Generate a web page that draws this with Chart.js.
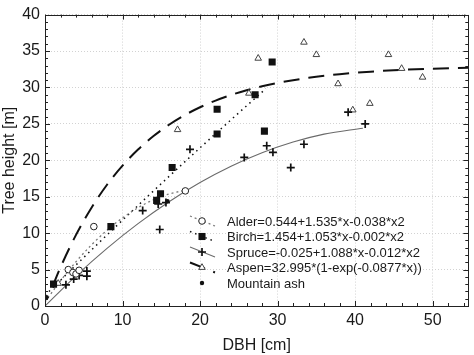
<!DOCTYPE html>
<html><head><meta charset="utf-8">
<script src="https://cdn.jsdelivr.net/npm/chart.js@4/dist/chart.umd.min.js"></script>
<style>html,body{margin:0;padding:0;background:#fff}#wrap{width:474px;height:355px}</style>
</head><body><div id="wrap"><canvas id="c" width="474" height="355"></canvas></div>
<script>
// ---- data ----
const xTicks = [0, 10, 20, 30, 40, 50];
const yTicks = [0, 5, 10, 15, 20, 25, 30, 35, 40];

const alderDBH = [3.0, 3.6, 4.0, 4.4, 6.3, 18.1];
const alderH   = [5.0, 4.6, 4.4, 4.9, 10.9, 15.8];
const birchDBH = [1.1, 8.5, 14.4, 14.9, 16.4, 22.2, 22.2, 27.1, 28.3, 29.3];
const birchH   = [3.0, 10.9, 14.5, 15.4, 19.0, 27.0, 23.6, 29.0, 24.0, 33.5];
const spruceDBH = [2.7, 3.7, 4.4, 5.4, 5.4, 12.6, 14.6, 14.8, 15.6, 18.7, 25.7, 28.6, 29.4, 31.7, 33.4, 39.1, 41.3];
const spruceH   = [2.9, 3.7, 4.2, 4.1, 4.8, 13.1, 14.0, 10.5, 14.2, 21.5, 20.4, 22.0, 21.1, 19.0, 22.2, 26.6, 25.0];
const aspenDBH = [1.7, 17.1, 26.3, 27.5, 33.4, 35.0, 37.8, 39.7, 41.9, 44.3, 46.0, 48.7];
const aspenH   = [3.1, 24.2, 29.2, 34.0, 36.2, 34.5, 30.5, 26.9, 27.8, 34.5, 32.6, 31.4];
const ashDBH = [0.2, 15.8];
const ashH   = [1.2, 14.4];

// fitted curves
const alderCurveX = [0, 2, 4, 6, 8, 10, 12, 14, 16, 18];
const alderCurveY = [0.54, 3.46, 6.08, 8.39, 10.39, 12.09, 13.49, 14.59, 15.38, 15.86];
const birchCurveX = [0, 4, 8, 12, 16, 20, 24, 28.5];
const birchCurveY = [1.45, 5.63, 9.75, 13.80, 17.79, 21.71, 25.57, 29.84];
const spruceCurveX = [0, 4, 8, 12, 16, 20, 24, 28, 32, 36, 41];
const spruceCurveY = [0, 4.14, 7.91, 11.30, 14.31, 16.94, 19.18, 21.03, 22.50, 23.59, 24.41];
const aspenCurveX = [1, 2, 4, 6, 8, 10, 12, 14, 16, 18, 20, 22, 24, 26, 28, 30, 34, 38, 42, 46, 50, 54.6];
const aspenCurveY = [2.77, 5.31, 9.76, 13.50, 16.64, 19.27, 21.48, 23.33, 24.88, 26.19, 27.28, 28.20, 28.97, 29.62, 30.16, 30.62, 31.32, 31.82, 32.17, 32.41, 32.58, 32.72];

const legendLabels = [
  "Alder=0.544+1.535*x-0.038*x2",
  "Birch=1.454+1.053*x-0.002*x2",
  "Spruce=-0.025+1.088*x-0.012*x2",
  "Aspen=32.995*(1-exp(-0.0877*x))",
  "Mountain ash"
];
const xTitle = "DBH [cm]";
const yTitle = "Tree height [m]";

// ---- build ----
const zip = (xs, ys) => xs.map((x, i) => ({x: x, y: ys[i]}));
const FONT = "'Liberation Sans', Arial, Helvetica, sans-serif";

const styles = [
  {line: {color: '#7a7a7a', width: 1.3, dash: [2, 3]}, pt: {style: 'circle', r: 3.3, fill: '#fff', stroke: '#222', bw: 1}},
  {line: {color: '#111', width: 1.5, dash: [1.5, 4]}, pt: {style: 'rect', r: 5, fill: '#111', stroke: '#111', bw: 0}},
  {line: {color: '#6a6a6a', width: 1.1, dash: []}, pt: {style: 'cross', r: 4, fill: '#111', stroke: '#111', bw: 1.7}},
  {line: {color: '#111', width: 2, dash: [16, 9]}, pt: {style: 'triangle', r: 3.8, fill: '#fff', stroke: '#444', bw: 1}},
  {line: null, pt: {style: 'circle', r: 2.2, fill: '#111', stroke: '#111', bw: 0}}
];

function curveDS(xs, ys, s) {
  return {data: zip(xs, ys), showLine: true, pointRadius: 0, borderColor: s.line.color,
    borderWidth: s.line.width, borderDash: s.line.dash, tension: 0.4, cubicInterpolationMode: 'monotone', fill: false, order: 2};
}
function pointDS(xs, ys, s) {
  return {data: zip(xs, ys), showLine: false, pointStyle: s.pt.style, pointRadius: s.pt.r,
    pointBackgroundColor: s.pt.fill, pointBorderColor: s.pt.stroke, pointBorderWidth: s.pt.bw, order: 0};
}

const datasets = [
  curveDS(alderCurveX, alderCurveY, styles[0]),
  curveDS(birchCurveX, birchCurveY, styles[1]),
  curveDS(spruceCurveX, spruceCurveY, styles[2]),
  curveDS(aspenCurveX, aspenCurveY, styles[3]),
  pointDS(alderDBH, alderH, styles[0]),
  pointDS(birchDBH, birchH, styles[1]),
  pointDS(spruceDBH, spruceH, styles[2]),
  pointDS(aspenDBH, aspenH, styles[3]),
  pointDS(ashDBH, ashH, styles[4])
];

function drawMarker(ctx, p, x, y) {
  ctx.save();
  ctx.setLineDash([]);
  ctx.lineWidth = p.bw;
  ctx.fillStyle = p.fill;
  ctx.strokeStyle = p.stroke;
  ctx.beginPath();
  if (p.style === 'circle') {
    ctx.arc(x, y, p.r, 0, Math.PI * 2);
    ctx.fill(); if (p.bw) ctx.stroke();
  } else if (p.style === 'rect') {
    const h = p.r * Math.SQRT1_2;
    ctx.rect(x - h, y - h, 2 * h, 2 * h); ctx.fill();
  } else if (p.style === 'cross') {
    ctx.moveTo(x - p.r, y); ctx.lineTo(x + p.r, y);
    ctx.moveTo(x, y - p.r); ctx.lineTo(x, y + p.r); ctx.stroke();
  } else if (p.style === 'triangle') {
    const r = p.r;
    ctx.moveTo(x, y - r); ctx.lineTo(x + r * 0.866, y + r * 0.5); ctx.lineTo(x - r * 0.866, y + r * 0.5);
    ctx.closePath(); ctx.fill(); ctx.stroke();
  }
  ctx.restore();
}

const decor = {
  id: 'decor',
  afterDraw(chart) {
    const ctx = chart.ctx, a = chart.chartArea;
    const xs = chart.scales.x, ys = chart.scales.y;
    ctx.save();
    ctx.strokeStyle = '#222';
    ctx.lineWidth = 1;
    ctx.setLineDash([]);
    // minor / major ticks, inward
    ctx.beginPath();
    for (let v = 0; v <= xs.max + 1e-6; v += 2) {
      const px = Math.round(xs.getPixelForValue(v)) + 0.5;
      const len = (v % 10 === 0) ? 5 : 3;
      ctx.moveTo(px, a.bottom); ctx.lineTo(px, a.bottom - len);
      ctx.moveTo(px, a.top); ctx.lineTo(px, a.top + len);
    }
    for (let v = 0; v <= ys.max + 1e-6; v += 1) {
      const py = Math.round(ys.getPixelForValue(v)) + 0.5;
      const len = (v % 5 === 0) ? 5 : 3;
      ctx.moveTo(a.left, py); ctx.lineTo(a.left + len, py);
      ctx.moveTo(a.right, py); ctx.lineTo(a.right - len, py);
    }
    ctx.stroke();
    // frame
    ctx.strokeRect(Math.round(a.left) + 0.5, Math.round(a.top) + 0.5, Math.round(a.right - a.left), Math.round(a.bottom - a.top));
    // legend
    const rows = [222, 237.5, 253, 268.5, 284];
    ctx.font = '13px ' + FONT;
    ctx.textBaseline = 'middle';
    ctx.textAlign = 'left';
    for (let i = 0; i < legendLabels.length; i++) {
      const yc = rows[i], s = styles[i];
      if (s.line) {
        ctx.save();
        ctx.strokeStyle = s.line.color;
        ctx.lineWidth = s.line.width;
        ctx.setLineDash(s.line.dash);
        ctx.beginPath();
        ctx.moveTo(190, yc - 6); ctx.lineTo(215, yc + 4);
        ctx.stroke();
        ctx.restore();
      }
      drawMarker(ctx, s.pt, 202, yc - 1);
      ctx.fillStyle = '#1a1a1a';
      ctx.fillText(legendLabels[i], 227, yc);
    }
    ctx.restore();
  }
};

new Chart(document.getElementById('c'), {
  type: 'scatter',
  data: {datasets: datasets},
  plugins: [decor],
  options: {
    responsive: false,
    animation: false,
    layout: {padding: {top: 7, right: 4, left: 0, bottom: 0}},
    plugins: {legend: {display: false}, tooltip: {enabled: false}},
    scales: {
      x: {
        type: 'linear', min: 0, max: 54.6,
        afterBuildTicks(s) { s.ticks = xTicks.map(v => ({value: v})); },
        afterFit(s) { s.height = 49; },
        grid: {color: '#d2d2d2', lineWidth: 1, drawTicks: false},
        border: {display: false, dash: [1, 2]},
        ticks: {color: '#1a1a1a', font: {family: FONT, size: 16}, padding: 5, maxRotation: 0, includeBounds: false},
        title: {display: true, text: xTitle, color: '#1a1a1a', font: {family: FONT, size: 16}, padding: {top: 2, bottom: 0}}
      },
      y: {
        type: 'linear', min: 0, max: 40,
        afterBuildTicks(s) { s.ticks = yTicks.map(v => ({value: v})); },
        afterFit(s) { s.width = 45; },
        grid: {color: '#d2d2d2', lineWidth: 1, drawTicks: false},
        border: {display: false, dash: [1, 2]},
        ticks: {color: '#1a1a1a', font: {family: FONT, size: 16}, padding: 5},
        title: {display: true, text: yTitle, color: '#1a1a1a', font: {family: FONT, size: 16}, padding: 0}
      }
    }
  }
});
</script>
</body></html>
